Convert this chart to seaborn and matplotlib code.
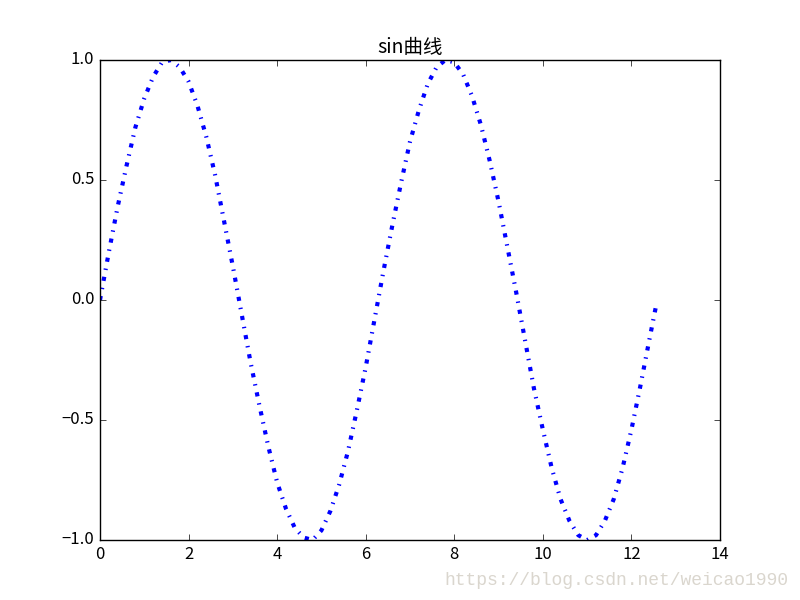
import matplotlib
matplotlib.use("Agg")
import matplotlib.pyplot as plt
import seaborn as sns
import pandas as pd

x_vals = [0.0, 0.2, 0.4, 0.6, 0.8, 1.0, 1.2, 1.4, 1.6, 1.8, 2.0, 2.2, 2.4, 2.6, 2.8,
          3.0, 3.2, 3.4, 3.6, 3.8, 4.0, 4.2, 4.4, 4.6, 4.8, 5.0, 5.2, 5.4, 5.6, 5.8,
          6.0, 6.2, 6.4, 6.6, 6.8, 7.0, 7.2, 7.4, 7.6, 7.8, 8.0, 8.2, 8.4, 8.6, 8.8,
          9.0, 9.2, 9.4, 9.6, 9.8, 10.0, 10.2, 10.4, 10.6, 10.8, 11.0, 11.2, 11.4,
          11.6, 11.8, 12.0, 12.2, 12.4, 12.55]
y_vals = [0.00, 0.20, 0.39, 0.56, 0.72, 0.84, 0.93, 0.99, 1.00, 0.97, 0.91, 0.81, 0.68,
          0.52, 0.33, 0.14, -0.06, -0.26, -0.44, -0.61, -0.76, -0.87, -0.95, -0.99,
          -1.00, -0.96, -0.88, -0.77, -0.63, -0.46, -0.28, -0.08, 0.12, 0.31, 0.49,
          0.66, 0.79, 0.90, 0.97, 1.00, 0.99, 0.94, 0.85, 0.73, 0.58, 0.41, 0.22,
          0.03, -0.17, -0.37, -0.54, -0.70, -0.83, -0.92, -0.98, -1.00, -0.98, -0.92,
          -0.83, -0.70, -0.54, -0.36, -0.17, -0.03]
title_text = "sin曲线"
x_ticks = [0, 2, 4, 6, 8, 10, 12, 14]
y_ticks = [-1.0, -0.5, 0.0, 0.5, 1.0]
watermark = "https://blog.csdn.net/weicao1990"

plt.style.use("classic")
plt.rcParams["font.family"] = ["Noto Sans CJK SC", "DejaVu Sans"]
plt.rcParams["axes.unicode_minus"] = True
plt.rcParams["lines.scale_dashes"] = False

df = pd.DataFrame({"x": x_vals, "y": y_vals})

fig = plt.figure(figsize=(8, 6), dpi=100, facecolor="white")
ax = fig.add_axes([0.125, 0.1, 0.775, 0.8])
sns.lineplot(data=df, x="x", y="y", ax=ax, color="blue", linewidth=3,
             sort=False, errorbar=None, estimator=None)
line = ax.get_lines()[0]
line.set_dashes((3, 5, 1, 5))
line.set_dash_capstyle("butt")

ax.set_xlim(0, 14)
ax.set_ylim(-1, 1)
ax.set_xticks(x_ticks)
ax.set_yticks(y_ticks)
ax.set_xlabel("")
ax.set_ylabel("")
ax.set_title(title_text, fontsize=14)
ax.tick_params(direction="in", top=True, right=True, labelsize=12)
ax.set_facecolor("white")

fig.text(0.985, 0.033, watermark, ha="right", va="center", fontsize=13,
         color="#dad6ce", family=["Liberation Mono", "DejaVu Sans Mono"])

fig.savefig("out.png", dpi=100, facecolor="white")
